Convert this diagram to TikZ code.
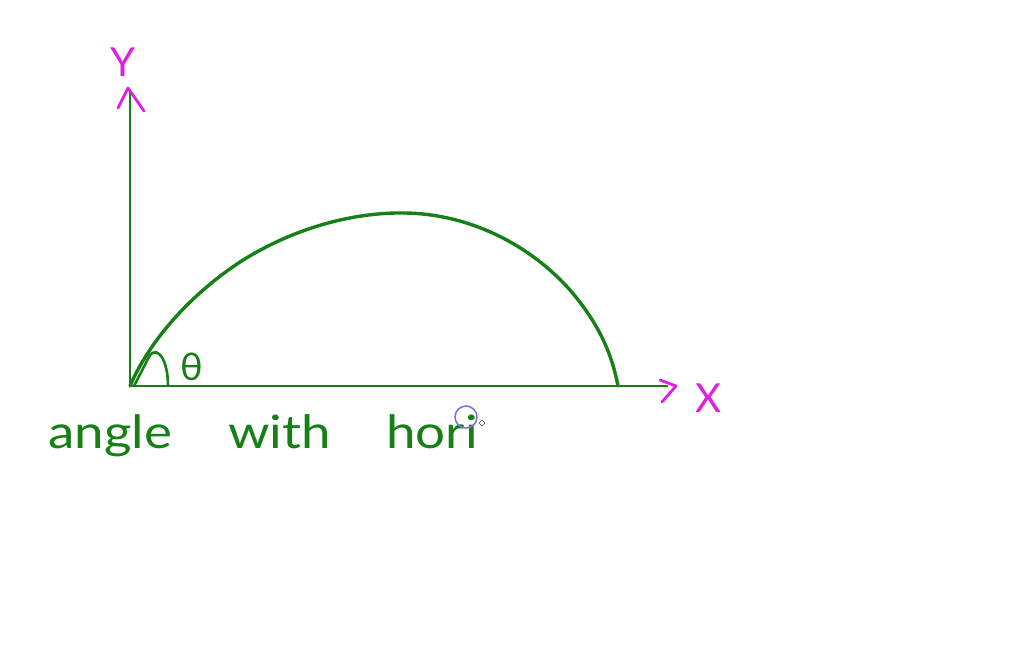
\documentclass[tikz,border=0pt]{standalone}
\usepackage{fontspec}
\setmainfont{Lato}
\definecolor{pen}{RGB}{22,128,22}
\definecolor{mag}{RGB}{226,30,226}
\definecolor{cur}{RGB}{120,110,230}
\tikzset{
  axisline/.style={draw=pen, line width=1.8pt},
  pathline/.style={draw=pen, line width=3.4pt, line cap=round, line join=round},
  chev/.style={draw=mag, line width=2.8pt, line cap=round, line join=round},
  hand/.style={text=pen, font=\fontsize{46}{52}\selectfont, inner sep=0pt, anchor=base west, xscale=1.15},
  axlabel/.style={text=mag, font=\fontsize{40}{46}\selectfont, inner sep=0pt},
}
\begin{document}
\begin{tikzpicture}[x=1pt, y=-1pt]
\useasboundingbox (0,0) rectangle (1024,652);
% axes
\coordinate (O) at (130,386);
\coordinate (ytop) at (130,92);
\draw[axisline] (O) -- (ytop);
\draw[axisline] (O) -- (668,386);
% arrowheads
\draw[chev] (118,108) -- (128,88) -- (144,111);
\draw[chev] (660,380) -- (676,386) -- (662,402);
% axis labels
\node[axlabel] (ylab) at (123,62) {Y};
\node[axlabel] (xlab) at (708,398) {X};
% trajectory
\draw[pathline] (O) .. controls (150,340) and (190,295) .. (240,262)
  .. controls (290,230) and (350,212) .. (405,213)
  .. controls (470,214) and (530,245) .. (570,290)
  .. controls (600,325) and (612,355) .. (618,386);
% angle mark
\draw[pathline, line width=2.6pt] (134,386) -- (150,355) .. controls (158,346) and (168,360) .. (168,386);
\node[text=pen, font=\fontsize{38}{44}\selectfont, inner sep=0pt] (theta) at (192,367) {θ};
% text
\node[hand] (w1) at (48,448) {angle};
\node[hand] (w2) at (228,448) {with};
\node[hand] (w3) at (386,448) {hori};
% cursor
\draw[cur, line width=1.5pt] (466,417) circle (11);
\draw[black!70, line width=0.6pt] (479,423) -- (482,420) -- (485,423) -- (482,426) -- cycle;
\end{tikzpicture}
\end{document}
